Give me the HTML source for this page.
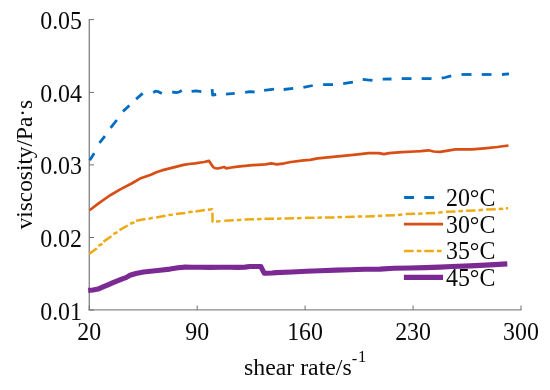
<!DOCTYPE html>
<html><head><meta charset="utf-8"><style>
html,body{margin:0;padding:0;background:#fff;}
svg{display:block;}
text{font-family:"Liberation Serif","Times New Roman",serif;fill:#0a0a0a;}
</style></head><body>
<svg width="550" height="390" viewBox="0 0 550 390">
<line x1="89.3" y1="18.9" x2="89.3" y2="310.6" stroke="#8a8a8a" stroke-width="1.4"/>
<line x1="88.6" y1="309.85" x2="521.5" y2="309.85" stroke="#8a8a8a" stroke-width="1.4"/>
<line x1="89.5" y1="310.0" x2="94" y2="310.0" stroke="#707070" stroke-width="1.0"/>
<text transform="translate(0,311.20) scale(1,1.03) translate(0,-311.20)" x="82" y="319.5" text-anchor="end" font-size="23.9">0.01</text>
<line x1="89.5" y1="237.5" x2="94" y2="237.5" stroke="#707070" stroke-width="1.0"/>
<text transform="translate(0,238.50) scale(1,1.03) translate(0,-238.50)" x="82" y="246.8" text-anchor="end" font-size="23.9">0.02</text>
<line x1="89.5" y1="164.9" x2="94" y2="164.9" stroke="#707070" stroke-width="1.0"/>
<text transform="translate(0,165.80) scale(1,1.03) translate(0,-165.80)" x="82" y="174.1" text-anchor="end" font-size="23.9">0.03</text>
<line x1="89.5" y1="92.4" x2="94" y2="92.4" stroke="#707070" stroke-width="1.0"/>
<text transform="translate(0,93.10) scale(1,1.03) translate(0,-93.10)" x="82" y="101.4" text-anchor="end" font-size="23.9">0.04</text>
<line x1="89.5" y1="19.6" x2="94" y2="19.6" stroke="#707070" stroke-width="1.0"/>
<text transform="translate(0,20.40) scale(1,1.03) translate(0,-20.40)" x="82" y="28.7" text-anchor="end" font-size="23.9">0.05</text>
<line x1="89.3" y1="310.0" x2="89.3" y2="305.5" stroke="#707070" stroke-width="1.0"/>
<text transform="translate(0,331.5) scale(1,1.05) translate(0,-331.5)" x="89.3" y="339.3" text-anchor="middle" font-size="23.9">20</text>
<line x1="197.2" y1="310.0" x2="197.2" y2="305.5" stroke="#707070" stroke-width="1.0"/>
<text transform="translate(0,331.5) scale(1,1.05) translate(0,-331.5)" x="197.2" y="339.3" text-anchor="middle" font-size="23.9">90</text>
<line x1="305.1" y1="310.0" x2="305.1" y2="305.5" stroke="#707070" stroke-width="1.0"/>
<text transform="translate(0,331.5) scale(1,1.05) translate(0,-331.5)" x="305.1" y="339.3" text-anchor="middle" font-size="23.9">160</text>
<line x1="413.1" y1="310.0" x2="413.1" y2="305.5" stroke="#707070" stroke-width="1.0"/>
<text transform="translate(0,331.5) scale(1,1.05) translate(0,-331.5)" x="413.1" y="339.3" text-anchor="middle" font-size="23.9">230</text>
<line x1="521.0" y1="310.0" x2="521.0" y2="305.5" stroke="#707070" stroke-width="1.0"/>
<text transform="translate(0,331.5) scale(1,1.05) translate(0,-331.5)" x="521.0" y="339.3" text-anchor="middle" font-size="23.9">300</text>
<polyline points="88.20,290.40 93.00,290.00 98.00,289.10 103.00,286.90 108.00,284.80 113.00,282.60 118.00,280.60 123.00,278.60 126.00,277.60 130.00,275.30 135.90,273.50 143.60,272.00 150.50,271.30 160.00,270.30 170.00,269.10 178.00,267.80 185.00,267.10 192.00,267.30 200.00,267.30 210.00,267.40 220.00,267.30 230.00,267.30 238.00,267.40 245.00,267.10 250.00,266.50 257.00,266.50 260.80,266.50 264.30,273.30 266.00,273.30 272.00,273.00 276.00,272.60 292.00,272.00 306.00,271.30 320.00,270.80 336.00,270.10 350.00,269.70 365.00,269.30 380.00,269.10 394.00,268.20 410.00,268.00 425.00,267.60 440.00,267.10 452.00,266.50 470.00,265.90 490.00,264.90 507.30,263.90" fill="none" stroke="#7B2A94" stroke-width="5.1" stroke-linejoin="round"/>
<g fill="none" stroke="#EDAA14" stroke-width="2.5" stroke-linejoin="round">
<polyline points="89.10,254.10 96.60,248.50 96.67,248.38"/>
<polyline points="103.50,241.60 111.40,236.33"/>
<polyline points="119.50,230.20 127.70,225.50 127.74,225.47"/>
<polyline points="136.10,220.70 145.43,218.91"/>
<polyline points="156.20,217.60 165.50,215.80 165.53,215.79"/>
<polyline points="175.90,214.10 185.00,213.00 185.33,212.92"/>
<polyline points="195.50,211.40 204.90,210.06"/>
<polyline points="212.38,212.70 212.60,221.80 212.99,221.74"/>
<polyline points="224.30,220.70 233.60,220.30 233.79,220.29"/>
<polyline points="244.50,219.40 254.00,219.31"/>
<polyline points="264.50,218.80 274.00,218.71"/>
<polyline points="284.50,218.50 294.00,218.33"/>
<polyline points="305.00,217.80 314.50,217.80"/>
<polyline points="325.00,217.50 334.50,217.50"/>
<polyline points="345.20,216.90 354.70,216.71"/>
<polyline points="365.30,216.40 374.80,216.31"/>
<polyline points="385.40,215.50 394.90,215.31"/>
<polyline points="405.60,214.00 415.10,213.82"/>
<polyline points="425.70,213.20 435.20,212.91"/>
<polyline points="445.90,211.80 455.40,211.51"/>
<polyline points="466.00,210.80 475.49,210.43"/>
<polyline points="486.20,209.50 495.70,209.31"/>
<polyline points="505.80,208.40 508.00,208.20"/>
<polyline points="98.37,245.95 102.10,243.80 102.21,243.63"/>
<polyline points="113.39,234.16 117.40,232.20 117.43,232.18"/>
<polyline points="130.11,223.70 133.80,222.50 134.29,222.12"/>
<polyline points="148.43,218.90 148.60,218.90 152.77,217.72"/>
<polyline points="168.41,214.98 172.30,214.60 172.89,214.52"/>
<polyline points="188.25,212.27 192.00,211.80 192.72,211.72"/>
<polyline points="207.88,209.66 209.80,209.40 212.30,209.20 212.30,209.25"/>
<polyline points="215.98,221.48 219.00,221.30 220.46,221.13"/>
<polyline points="236.79,220.10 240.00,219.90 241.27,219.76"/>
<polyline points="257.00,219.18 261.49,218.95"/>
<polyline points="277.00,218.65 281.50,218.56"/>
<polyline points="297.00,218.24 301.49,218.00"/>
<polyline points="317.50,217.73 322.00,217.59"/>
<polyline points="337.50,217.34 341.99,217.09"/>
<polyline points="357.70,216.62 362.19,216.49"/>
<polyline points="377.79,216.12 382.28,215.75"/>
<polyline points="397.88,214.97 402.34,214.41"/>
<polyline points="418.09,213.67 422.59,213.39"/>
<polyline points="438.18,212.62 442.66,212.14"/>
<polyline points="458.39,211.32 462.88,211.01"/>
<polyline points="478.48,210.21 482.96,209.80"/>
<polyline points="498.69,209.05 503.17,208.64"/>
</g>
<polyline points="89.60,210.20 98.90,203.10 109.80,195.50 120.70,189.10 131.60,183.50 140.00,178.60 150.90,174.70 156.40,172.30 161.80,170.40 172.70,167.60 183.60,164.90 189.10,164.00 195.00,163.40 204.10,162.00 209.10,160.90 212.70,166.50 214.50,168.00 217.70,168.50 224.10,167.00 226.40,168.40 231.40,167.50 237.70,166.60 240.00,166.40 252.70,165.20 265.40,164.30 271.20,163.30 276.90,164.30 284.50,163.30 290.90,162.00 303.60,160.30 310.00,159.90 317.70,158.40 330.40,157.20 343.20,155.90 355.90,154.60 368.60,153.10 378.90,153.10 384.00,154.10 389.10,153.10 401.80,152.20 414.50,151.50 420.90,151.20 428.50,150.30 433.60,151.50 440.00,151.80 446.40,150.80 455.30,149.40 471.80,149.40 484.50,148.30 497.30,147.00 508.50,145.50" fill="none" stroke="#D84E14" stroke-width="2.7" stroke-linejoin="round"/>
<g fill="none" stroke="#006CC4" stroke-width="2.8" stroke-linejoin="round">
<polyline points="89.70,160.30 94.20,153.20"/>
<polyline points="99.50,142.80 104.90,136.10"/>
<polyline points="110.60,127.80 116.80,120.00"/>
<polyline points="123.00,111.40 129.40,105.50"/>
<polyline points="136.10,99.10 142.70,93.40"/>
<polyline points="153.20,92.40 155.50,91.20 158.00,91.60 161.80,93.60"/>
<polyline points="172.20,92.00 176.40,92.60 179.00,92.00 181.80,90.60"/>
<polyline points="191.60,91.40 196.00,90.80 201.30,91.60"/>
<polyline points="212.10,89.20 212.60,95.00 216.20,94.50"/>
<polyline points="226.00,94.20 234.70,93.30"/>
<polyline points="245.20,92.30 250.00,91.60 254.60,92.00"/>
<polyline points="264.10,90.30 274.00,89.10"/>
<polyline points="283.70,89.50 293.20,88.40"/>
<polyline points="303.40,87.40 312.80,85.50"/>
<polyline points="323.10,84.60 333.00,84.60"/>
<polyline points="343.20,83.60 352.90,82.20"/>
<polyline points="362.70,79.30 367.50,79.90 372.50,80.30"/>
<polyline points="382.70,79.20 391.50,79.00"/>
<polyline points="401.70,78.60 411.50,78.60"/>
<polyline points="421.70,78.60 431.50,78.60"/>
<polyline points="441.70,78.20 445.00,77.50 451.20,75.80"/>
<polyline points="461.50,74.50 471.50,74.50"/>
<polyline points="481.70,74.50 491.50,74.50"/>
<polyline points="502.00,74.50 509.00,73.80"/>
</g>
<line x1="404.1" y1="197.5" x2="443" y2="197.5" stroke="#006CC4" stroke-width="2.8" stroke-dasharray="9.9 10.3"/>
<line x1="403.9" y1="224.2" x2="443" y2="224.2" stroke="#D84E14" stroke-width="2.7"/>
<line x1="404.1" y1="250.9" x2="443" y2="250.9" stroke="#EDAA14" stroke-width="2.5" stroke-dasharray="9.5 3.2 4.6 2.9"/>
<line x1="403.9" y1="277.4" x2="443" y2="277.4" stroke="#7B2A94" stroke-width="5.1"/>
<text transform="translate(0,197.50) scale(1,1.02) translate(0,-197.50)" x="446" y="205.6" font-size="23.9">20°C</text>
<text transform="translate(0,224.30) scale(1,1.02) translate(0,-224.30)" x="446" y="232.4" font-size="23.9">30°C</text>
<text transform="translate(0,250.80) scale(1,1.02) translate(0,-250.80)" x="446" y="258.9" font-size="23.9">35°C</text>
<text transform="translate(0,277.30) scale(1,1.02) translate(0,-277.30)" x="446" y="285.4" font-size="23.9">45°C</text>
<text x="244" y="374.6" font-size="23.8">shear rate/s<tspan font-size="16.5" dy="-11">-</tspan><tspan font-size="16.5" dy="-1.6" dx="0.8">1</tspan></text>
<text transform="translate(32,164.6) rotate(-90)" text-anchor="middle" font-size="23.3">viscosity/Pa<tspan dy="-2">·</tspan><tspan dy="2">s</tspan></text>
</svg>
</body></html>
